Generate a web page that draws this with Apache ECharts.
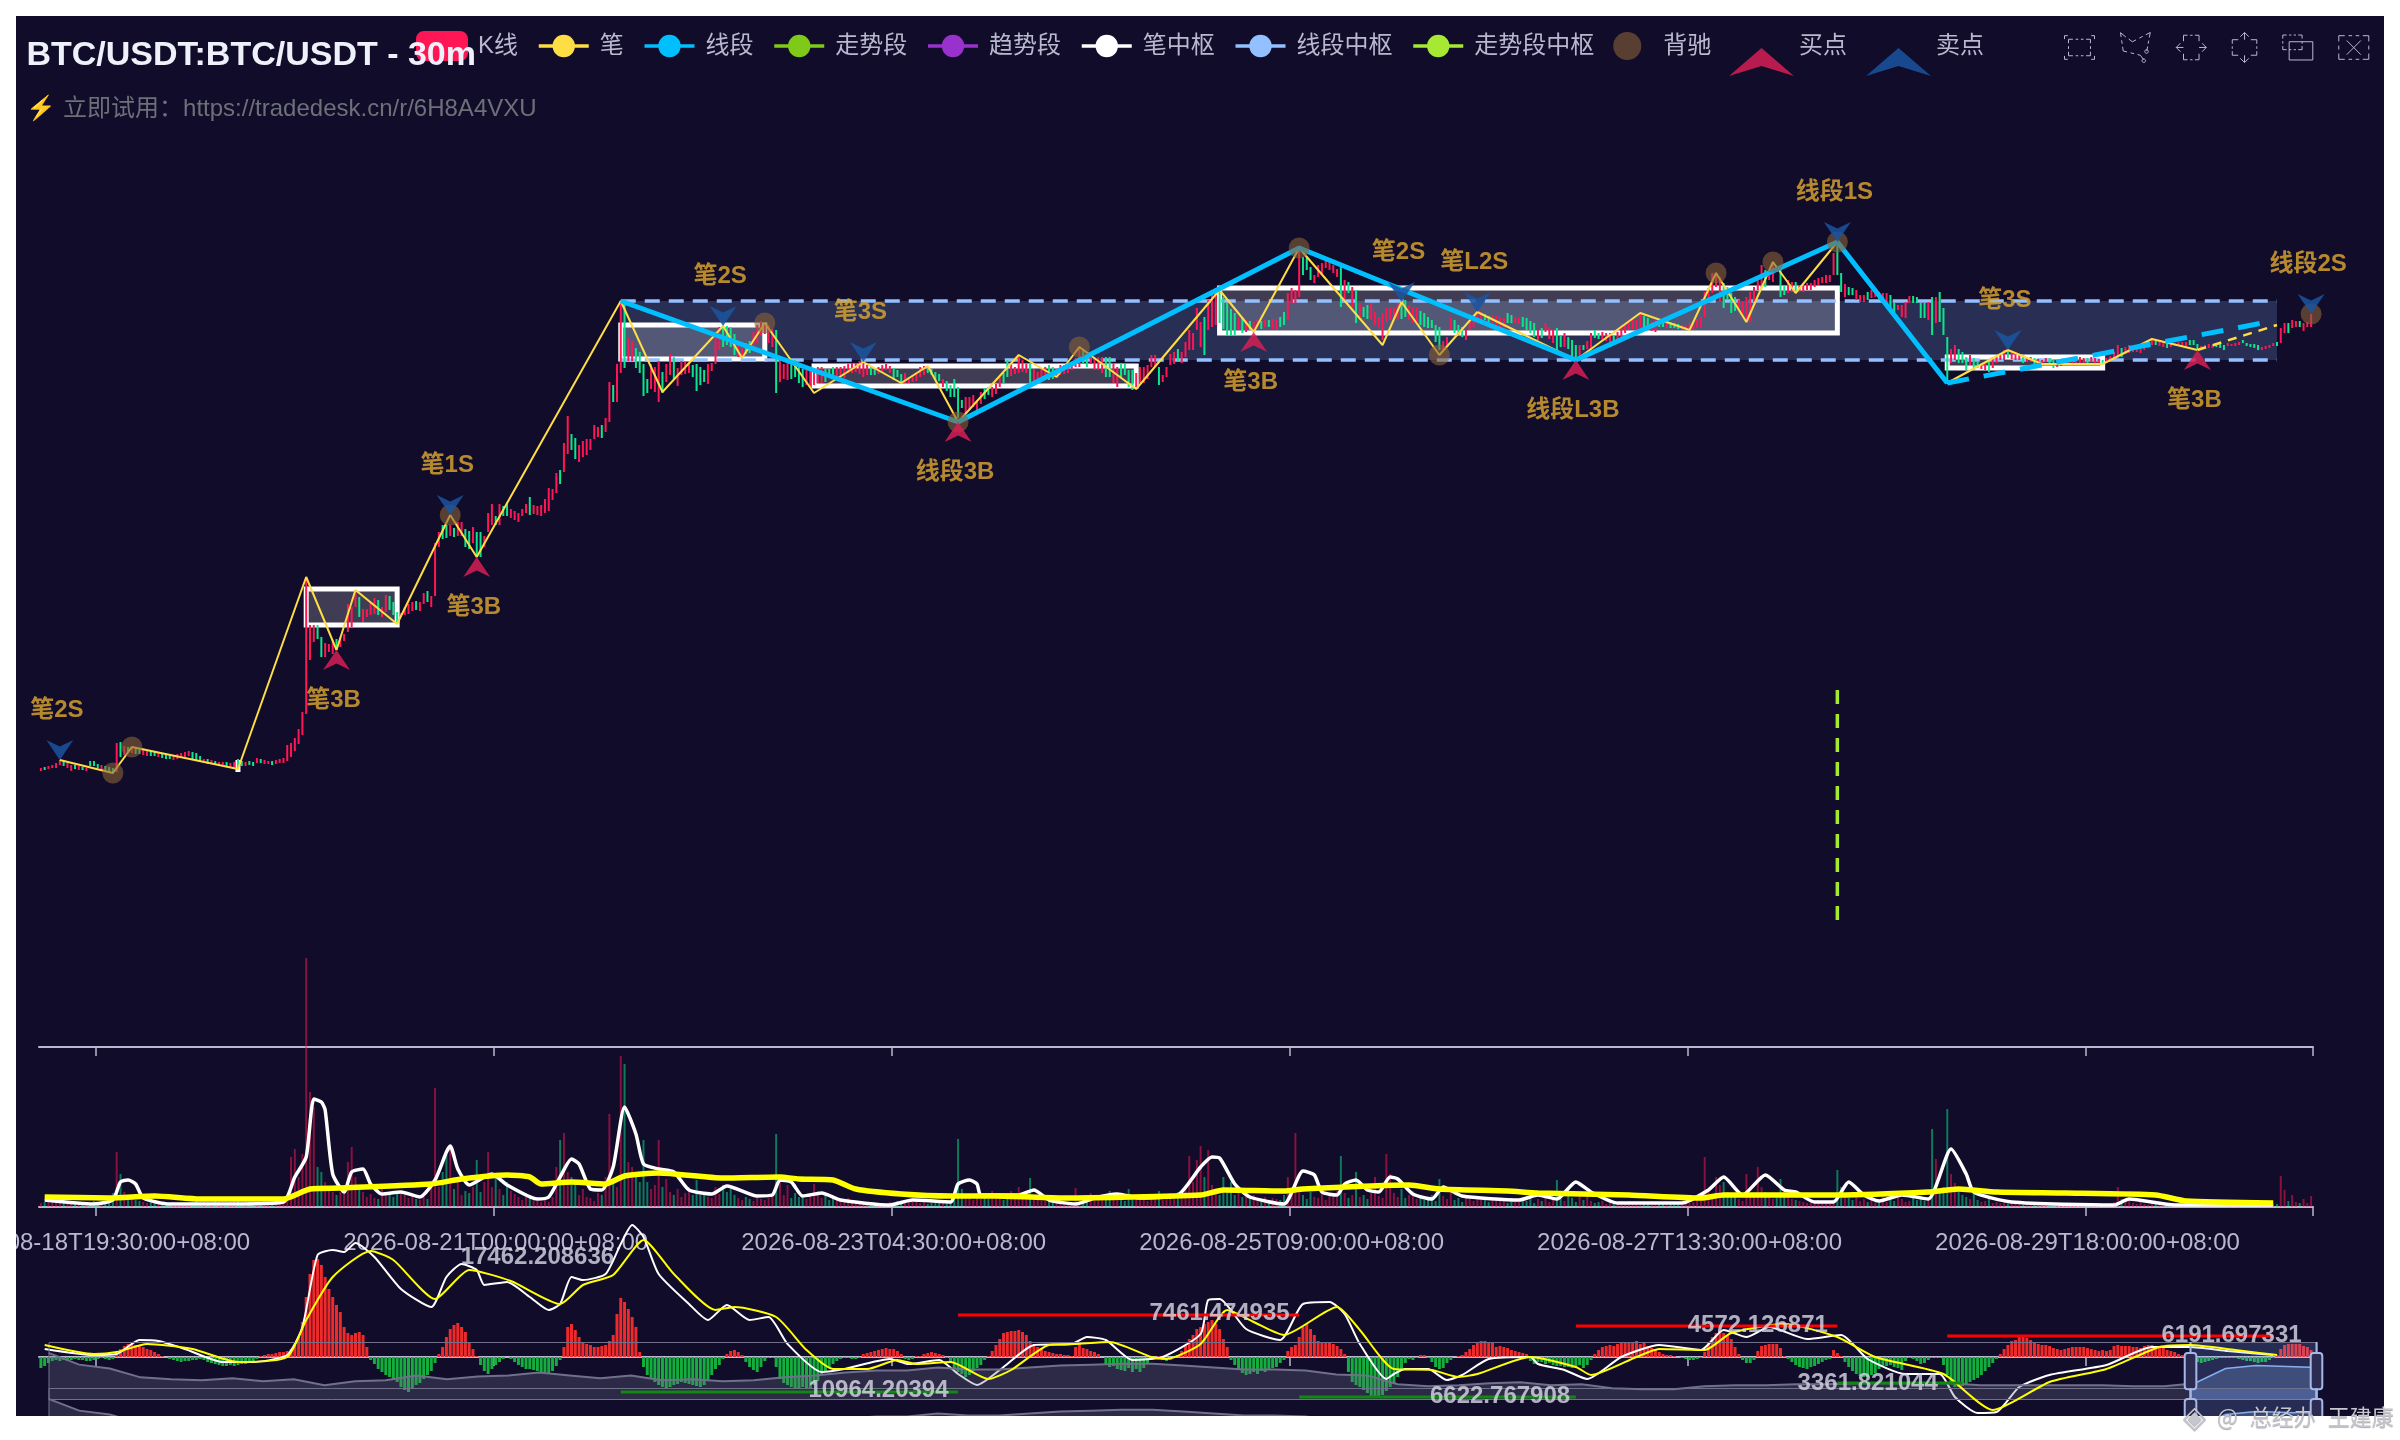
<!DOCTYPE html>
<html>
<head>
<meta charset="utf-8">
<style>
html,body{margin:0;padding:0;background:#fff;width:2400px;height:1440px;overflow:hidden}
#chart{position:absolute;left:16px;top:16px;width:2368px;height:1400px;overflow:hidden}
.mark{position:absolute;font-family:"Noto Sans CJK SC",sans-serif;color:#c6c6ce;text-shadow:0 1px 1px rgba(0,0,0,.35);white-space:nowrap}
</style>
<script src="https://cdn.jsdelivr.net/npm/echarts@6/dist/echarts.min.js"></script>
</head>
<body>
<div id="chart"></div>
<div class="mark" style="left:2183px;top:1392px;font-size:30px">◈</div>
<div class="mark" style="left:2217px;top:1399px;font-size:22px;word-spacing:7px">@ 总经办 王建康</div>
<script>
const START_TIME = Date.UTC(2026,7,18,12,0,0);
const BAR_COUNT = 600;
const highs = [
279,280,281,282,284,287,286,284,282,282,
281,280,279,286,286,283,282,281,280,279,
304,305,301,300,300,299,298,297,296,296,
295,295,294,293,292,292,293,294,295,296,
295,294,291,288,288,287,286,285,285,285,
284,285,288,286,285,286,285,289,288,287,
286,286,287,288,289,302,304,309,318,335,
470,422,422,422,410,404,403,407,408,410,
413,443,440,457,450,438,438,445,449,447,
440,452,451,445,435,434,440,443,445,446,
445,454,456,451,504,515,522,522,522,519,
525,525,518,516,520,515,515,511,534,543,
531,543,541,545,538,536,534,538,543,550,
542,541,542,548,559,558,574,577,604,631,
613,609,602,606,608,608,622,620,622,629,
665,662,683,746,745,709,706,699,695,683,
668,683,680,686,675,683,693,690,679,686,
685,684,682,683,680,677,683,684,709,720,
720,721,720,713,704,702,704,706,715,722,
726,724,722,718,717,687,683,687,687,687,
680,678,678,677,676,680,680,678,678,680,
680,680,681,683,684,684,686,685,682,680,
679,680,682,683,681,679,677,673,674,670,
672,673,680,681,681,678,675,673,668,666,
662,668,660,647,650,650,652,647,655,659,
660,660,663,670,674,687,683,680,692,687,
683,684,678,675,679,680,682,680,677,682,
682,683,684,689,699,697,690,690,690,690,
690,690,690,684,680,684,683,677,677,674,
680,680,682,692,692,680,672,680,693,695,
698,695,705,717,714,739,725,730,747,755,
757,759,750,744,738,734,730,730,727,726,
725,727,726,727,727,728,727,730,735,754,
759,757,799,790,790,780,772,782,784,787,
785,782,778,780,767,765,760,757,744,740,
742,744,735,730,734,739,739,740,744,745,
747,742,740,739,736,734,730,727,722,720,
706,710,729,727,722,720,717,727,730,735,
735,733,731,732,731,730,729,734,732,730,
729,730,729,726,724,717,719,724,720,717,
719,712,714,710,707,702,702,702,706,714,
717,714,715,714,714,712,715,722,724,727,
727,727,734,731,729,725,727,727,726,727,
725,724,723,722,722,724,724,728,730,755,
759,774,774,770,764,760,754,750,747,745,
750,755,760,769,782,777,775,785,780,778,
762,767,765,765,762,762,764,764,767,769,
770,772,772,794,805,774,763,760,759,757,
752,752,755,757,759,755,754,754,752,744,
742,742,745,751,751,750,744,744,745,750,
750,755,739,710,698,702,698,695,690,692,
689,685,684,683,687,690,690,692,697,697,
696,695,693,692,689,690,689,688,687,689,
689,687,684,685,687,687,687,688,690,689,
689,690,689,688,687,689,691,695,702,699,
700,702,700,701,702,704,705,709,707,706,
705,704,704,704,705,705,705,707,707,703,
701,702,703,702,704,703,702,704,703,704,
705,707,704,703,703,702,700,701,702,704,
705,719,724,724,727,726,726,724,725,733];
const lows = [
276,277,278,279,279,282,281,279,276,278,
277,277,276,281,281,279,277,275,274,274,
275,290,292,295,294,293,293,292,291,291,
291,290,289,288,288,287,288,289,290,291,
288,286,285,284,283,283,282,281,281,280,
280,280,278,281,281,282,281,284,284,283,
283,282,283,284,284,286,290,296,303,312,
333,387,405,408,390,390,395,393,397,400,
406,415,420,440,430,425,430,432,433,432,
430,435,437,432,423,431,432,433,436,437,
436,443,445,440,451,500,508,509,511,510,
511,511,500,498,504,490,490,500,515,522,
522,522,531,531,529,527,525,531,534,532,
533,532,531,534,536,547,554,563,575,593,
597,588,585,590,592,597,608,610,609,615,
625,645,645,674,679,686,686,679,674,651,
654,658,655,645,654,665,672,668,661,672,
673,674,670,656,662,665,663,676,683,697,
700,702,700,692,690,689,693,694,697,704,
711,713,704,700,654,665,668,667,668,670,
664,660,662,660,662,664,664,665,669,670,
668,668,669,674,674,675,673,670,672,672,
672,673,675,677,674,667,670,664,664,664,
665,666,670,672,674,672,667,666,660,656,
650,650,629,639,634,637,640,637,643,648,
652,650,653,660,664,670,671,673,674,675,
674,662,666,665,670,670,667,668,670,672,
673,674,677,680,680,684,680,683,677,677,
674,670,670,664,660,670,672,660,657,660,
664,664,668,680,680,662,665,670,682,683,
685,684,690,697,697,717,700,692,717,720,
722,724,718,712,712,712,717,714,715,717,
715,720,718,720,720,718,717,720,722,727,
744,744,750,772,777,767,764,770,772,779,
777,774,770,740,745,754,740,724,730,730,
728,727,722,720,707,725,727,730,727,728,
730,727,724,724,722,720,719,719,705,697,
695,700,717,714,712,710,707,717,720,724,
726,727,725,724,722,717,719,724,724,724,
723,720,717,714,710,707,709,715,708,704,
697,700,700,698,687,688,687,697,698,697,
709,708,707,706,705,705,708,710,714,717,
718,717,720,718,717,716,715,720,720,719,
719,719,718,717,717,717,717,719,720,730,
749,754,760,745,739,747,734,736,737,730,
728,725,745,757,760,760,767,765,775,750,
752,754,755,754,755,755,757,757,760,762,
764,764,765,772,772,755,750,752,752,747,
745,745,747,749,750,747,745,744,737,735,
737,730,729,744,744,744,729,729,727,712,
724,725,712,664,684,687,684,684,677,682,
677,679,678,677,675,679,684,687,687,689,
688,687,687,684,685,685,682,683,684,685,
684,679,680,681,682,683,684,684,684,683,
684,685,684,684,683,685,686,688,689,690,
693,694,695,695,694,697,699,702,702,701,
700,699,700,701,702,701,700,702,702,697,
698,698,699,699,700,699,697,701,701,701,
702,704,701,700,699,697,697,698,699,701,
701,704,714,714,719,720,720,716,720,720];
const ups = [
1,0,1,1,1,1,0,1,1,0,
1,0,1,0,0,0,1,0,0,0,
1,0,1,0,1,0,0,1,1,0,
0,1,0,0,0,1,1,1,1,1,
0,0,0,1,0,1,0,1,1,0,
1,1,0,0,1,0,0,1,0,1,
1,0,1,1,1,1,1,1,1,1,
1,1,1,0,0,1,1,1,0,1,
1,1,1,1,0,1,1,1,1,0,
1,1,0,0,0,1,1,1,1,0,
1,1,0,1,1,1,0,0,1,0,
1,1,0,0,1,0,0,1,1,1,
0,1,0,0,1,1,1,1,1,0,
1,1,1,1,1,1,1,0,1,1,
0,0,1,1,1,1,1,1,0,1,
1,0,1,1,0,1,1,0,0,0,
0,1,1,1,0,1,1,0,1,1,
1,1,0,0,0,0,1,1,1,1,
0,0,0,0,1,1,0,0,1,1,
1,1,1,1,0,1,1,1,0,0,
0,0,1,1,1,1,1,0,0,0,
1,1,1,1,1,1,1,1,1,0,
0,1,1,1,1,0,0,0,1,1,
1,1,1,1,0,0,0,0,1,0,
0,0,0,0,1,1,1,1,1,0,
0,1,1,1,0,0,1,1,1,1,
1,0,1,1,1,1,0,0,1,1,
1,1,1,1,1,0,0,1,1,1,
1,0,0,1,1,0,0,0,0,1,
1,1,1,1,1,0,1,1,1,1,
0,1,1,1,1,1,1,0,1,1,
1,0,0,0,0,0,1,0,1,0,
1,1,0,1,0,1,1,0,0,1,
1,1,1,0,0,0,1,1,1,1,
1,1,1,0,1,0,1,0,1,0,
0,1,1,1,1,1,1,1,1,0,
0,1,1,1,0,0,0,0,0,0,
1,1,1,0,0,0,1,1,1,1,
1,0,0,1,1,1,1,0,0,1,
1,0,0,0,0,1,0,1,1,1,
0,0,1,0,0,0,1,0,1,1,
0,0,1,1,1,0,1,1,1,1,
1,1,1,0,0,1,1,0,0,1,
0,0,0,1,1,1,1,1,1,1,
1,1,1,1,0,0,0,0,1,1,
1,1,1,1,1,0,1,1,0,0,
0,1,1,0,1,1,1,1,1,1,
1,1,1,1,0,0,1,0,0,1,
1,1,0,1,1,0,1,1,0,0,
1,1,1,1,0,0,0,0,1,0,
1,0,0,0,1,1,0,0,0,1,
0,0,1,1,0,1,1,1,1,0,
1,1,1,0,1,1,0,1,1,1,
0,0,1,1,1,1,1,1,1,1,
0,1,1,1,0,1,1,1,1,0,
1,1,1,1,1,1,1,1,0,1,
1,0,1,1,1,1,1,0,0,0,
1,1,1,1,0,0,0,1,1,1,
1,0,0,0,0,0,1,1,1,1,
0,1,1,0,1,1,0,1,1,1];
const volumes = [
4,5,6,6,5,4,8,5,4,6,
4,5,3,4,6,4,3,5,6,14,
55,33,15,8,10,7,6,5,4,5,
5,3,4,3,4,5,4,3,4,4,
5,6,4,5,3,4,6,5,3,4,
5,7,8,4,3,5,4,3,4,3,
4,3,5,4,6,10,50,58,30,53,
249,115,100,40,35,25,18,15,12,15,
14,45,60,30,22,15,10,13,9,8,
18,12,15,10,13,16,12,9,14,8,
7,10,8,25,119,20,35,53,62,18,
28,12,16,14,20,47,15,25,55,20,
30,18,12,25,16,13,10,7,10,12,
7,6,5,8,5,10,40,67,74,35,
30,25,12,18,10,9,6,14,12,30,
93,28,20,151,143,45,40,30,25,67,
25,18,22,67,20,28,15,12,18,10,
14,20,12,27,12,15,10,9,20,13,
22,15,18,12,9,7,10,8,6,9,
8,7,9,11,73,30,12,22,9,14,
10,13,8,11,23,16,9,12,7,10,
8,6,7,9,4,5,4,6,3,5,
4,3,4,3,5,4,6,3,4,6,
5,8,4,6,3,4,7,5,6,5,
6,9,68,18,12,9,7,14,8,10,
8,16,10,14,7,12,16,9,20,12,
8,29,12,10,6,7,9,5,8,4,
5,3,4,19,6,10,8,14,7,12,
9,8,16,7,12,10,6,18,9,8,
7,12,6,10,8,16,7,11,14,9,
15,9,20,51,25,47,61,30,57,22,
18,12,30,15,25,12,18,10,14,9,
12,8,7,10,6,9,8,7,12,30,
20,74,18,12,8,15,10,9,14,7,
12,10,16,51,14,9,12,35,10,12,
8,14,30,11,9,53,33,14,10,18,
9,12,16,8,11,7,10,12,6,28,
11,8,20,7,9,5,12,8,6,10,
7,9,5,8,10,6,7,4,9,8,
5,7,6,9,4,8,6,10,5,7,
27,8,6,12,9,5,14,7,10,6,
4,5,6,3,5,4,3,5,4,6,
4,3,5,4,3,6,4,5,3,4,
3,5,4,3,6,4,5,7,9,50,
18,12,30,22,25,15,12,10,8,6,
33,14,12,40,20,15,10,8,9,28,
12,10,8,7,6,5,4,6,5,7,
5,6,4,8,37,20,12,9,7,10,
6,8,5,7,4,6,14,5,7,6,
10,8,5,6,9,7,11,6,8,78,
48,14,20,98,33,24,18,12,10,8,
14,7,5,6,8,4,5,4,6,3,
4,3,5,2,4,3,2,4,3,5,
3,2,4,3,2,3,4,2,3,4,
2,3,2,4,3,2,3,5,20,8,
6,9,4,3,5,3,2,4,3,2,
3,2,4,2,3,2,1,2,3,2,
2,1,3,2,1,2,3,1,2,2,
1,2,1,2,1,3,2,1,2,2,
3,31,17,6,12,5,4,8,4,11];
const macdBars = [
-11,-9,-6,-4,-3,-4,-3,-4,-3,-2,
-3,-3,-4,-4,-3,-2,-1,-2,-3,-2,
3,8,11,13,13,12,11,10,8,7,
5,3,1,0,-2,-3,-4,-5,-4,-4,
-3,-3,-2,-3,-5,-6,-7,-8,-9,-9,
-8,-9,-8,-7,-7,-5,-4,-2,1,2,
3,3,4,5,5,6,8,12,20,35,
60,83,97,98,92,80,68,60,52,45,
30,24,22,24,25,22,10,-3,-7,-12,
-15,-18,-20,-23,-25,-30,-33,-35,-32,-28,
-26,-22,-18,-14,-6,3,10,20,28,32,
34,30,25,15,8,1,-8,-14,-17,-12,
-8,-5,-2,0,-2,-5,-8,-10,-12,-12,
-13,-14,-15,-15,-16,-14,-9,-3,10,30,
33,27,20,15,13,12,10,10,11,12,
16,22,43,59,55,48,40,30,5,-10,
-18,-22,-25,-28,-30,-31,-30,-28,-27,-25,
-26,-27,-28,-29,-30,-28,-24,-18,-12,-8,
-2,3,6,7,5,2,-5,-10,-13,-15,
-10,-4,-1,-1,-10,-22,-26,-28,-30,-31,
-31,-30,-32,-31,-28,-24,-18,-14,-10,-7,
-4,-2,-1,-1,-2,-2,-1,3,4,5,
6,7,8,9,8,8,6,3,-2,-3,
-2,1,1,3,4,5,4,3,2,-1,
-5,-11,-15,-17,-20,-18,-14,-11,-8,-3,
1,6,12,18,24,25,26,26,27,25,
22,16,12,10,9,6,5,4,3,3,
2,2,1,10,13,9,8,6,5,3,
0,-8,-10,-9,-12,-13,-14,-11,-15,-12,
-15,-11,-6,-3,0,1,-3,-4,-3,-1,
2,6,12,18,22,28,30,33,35,37,
33,28,18,10,-3,-8,-12,-16,-18,-17,
-15,-17,-14,-15,-13,-11,-10,-6,-3,6,
10,12,20,30,33,28,22,16,14,14,
14,13,11,8,3,-15,-25,-28,-30,-33,
-36,-40,-40,-40,-38,-34,-30,-26,-20,-12,
-6,-2,-3,-1,2,2,-1,-5,-10,-12,
-11,-6,-3,0,1,2,5,8,12,14,
16,16,14,14,10,11,10,9,7,6,
5,4,3,-4,-7,-5,-5,-7,-6,-8,
-9,-9,-10,-10,-11,-11,-8,-11,-8,-3,
3,7,10,11,12,11,13,14,15,14,
15,16,13,14,11,9,7,5,3,2,
2,1,0,-1,-2,-3,-3,-2,-1,5,
14,20,24,26,24,22,18,10,3,-3,
-6,-6,-3,6,11,12,13,13,13,9,
1,-2,-5,-8,-10,-11,-12,-10,-9,-7,
-5,-3,-2,7,4,1,-5,-10,-14,-17,
-19,-20,-20,-18,-16,-12,-10,-9,-8,-10,
-11,-13,-4,-1,-2,-4,-7,-6,-3,-1,
-1,-1,-8,-18,-25,-30,-30,-29,-27,-25,
-23,-21,-18,-14,-10,-6,-2,3,8,12,
16,17,20,20,19,17,15,13,12,12,
11,9,8,7,8,9,10,10,10,10,
9,8,7,6,7,6,7,11,12,11,
11,11,10,10,9,11,12,12,11,10,
9,7,6,5,3,2,-1,-2,-3,-5,
-6,-5,-4,-3,-2,-1,-1,-1,-1,-1,
-2,-3,-4,-4,-5,-6,-5,-5,-3,-1,
2,8,12,13,13,13,13,11,10,7];
const biLine = [[5,287],[19,274],[24,300],[52,278],[70,470],[78,397],[83,457],[94,423],[108,532],[115,490],[153,746],[164,655],[180,721],[185,689],[191,724],[204,654],[217,685],[227,664],[234,681],[242,625],[258,692],[268,670],[274,700],[289,658],[311,757],[320,715],[332,799],[354,702],[359,745],[369,692],[379,735],[405,687],[422,734],[435,717],[442,774],[450,725],[457,785],[463,754],[474,805],[503,664],[519,697],[528,683],[544,683],[557,708],[569,697]];
const biDashed = [[569,697],[590,722]];
const segLine = [[153,746],[242,625],[332,799],[405,687],[474,805],[503,664]];
const segDashed = [[503,664],[589,726]];
const biZones = [[52,52,287,275],[70,94,458,422],[153,191,722,688],[204,289,681,661],[311,474,759,714],[503,544,690,679]];
const segZones = [[153,590,746,687]];
const trendLine = [[474,357],[474,125]];
const divergences = [[19,274],[24,300],[108,532],[191,724],[242,625],[274,700],[332,799],[369,692],[442,774],[457,785],[474,805],[599,733]];
const buyPoints = [[78,397,'笔3B'],[115,490,'笔3B'],[242,625,'线段3B'],[320,715,'笔3B'],[405,687,'线段L3B'],[569,697,'笔3B']];
const sellPoints = [[5,287,'笔2S'],[108,532,'笔1S'],[180,721,'笔2S'],[217,685,'笔3S'],[359,745,'笔2S'],[379,735,'笔L2S'],[474,805,'线段1S'],[519,697,'笔3S'],[599,733,'线段2S']];
const volWhite = [[1,7],[14,3],[19,7],[21,25],[23,27],[25,23],[27,9],[34,3],[50,3],[64,5],[67,30],[70,50],[72,108],[74,105],[75,97],[77,33],[80,15],[82,35],[85,38],[87,23],[90,13],[95,15],[100,10],[104,27],[107,55],[108,61],[110,38],[113,22],[117,30],[119,33],[123,22],[131,8],[134,10],[137,30],[140,48],[142,43],[145,18],[148,17],[151,40],[154,100],[157,73],[159,43],[163,38],[167,35],[171,17],[177,13],[181,21],[189,11],[193,12],[195,27],[198,25],[201,11],[206,14],[211,7],[224,2],[230,7],[240,5],[242,23],[245,27],[247,23],[248,12],[258,12],[262,17],[266,7],[273,3],[278,9],[284,13],[290,9],[300,12],[306,40],[309,50],[311,49],[315,23],[319,10],[328,3],[333,36],[336,32],[338,15],[342,12],[344,23],[347,27],[350,17],[353,15],[356,30],[358,28],[362,13],[367,8],[370,20],[375,11],[390,7],[395,12],[400,8],[405,25],[409,15],[416,4],[433,4],[440,17],[444,30],[449,12],[455,32],[460,17],[463,15],[468,5],[473,5],[477,25],[481,12],[485,6],[491,12],[498,8],[504,58],[508,33],[510,15],[520,5],[547,2],[551,8],[563,2],[589,2]];
const volYellow = [[1,10],[18,9],[30,11],[42,8],[64,8],[71,18],[79,19],[103,23],[111,28],[123,32],[129,30],[132,23],[140,25],[149,23],[154,31],[163,34],[180,29],[195,30],[200,28],[209,27],[215,18],[227,13],[240,11],[252,11],[270,9],[306,12],[312,17],[328,16],[333,18],[361,22],[369,18],[387,16],[395,14],[419,12],[438,9],[444,12],[474,12],[498,15],[506,18],[516,15],[534,14],[558,12],[566,6],[589,4]];
const difLine = [[1,8],[14,2],[20,3],[26,17],[31,16],[38,8],[48,-5],[56,-5],[65,2],[69,30],[73,102],[77,107],[80,105],[83,114],[88,100],[95,68],[103,50],[107,80],[111,93],[115,87],[117,72],[123,75],[129,60],[134,47],[137,53],[140,80],[143,77],[149,83],[153,113],[156,132],[159,120],[163,83],[171,53],[176,37],[181,52],[187,37],[192,40],[197,13],[206,-15],[212,-12],[224,-2],[229,-7],[237,-3],[242,-17],[247,-28],[254,-10],[262,12],[272,13],[276,20],[281,17],[288,-3],[296,0],[306,23],[308,57],[311,58],[318,28],[327,17],[333,53],[340,55],[344,43],[348,13],[355,-22],[357,-17],[360,-12],[366,-12],[371,-23],[375,-18],[382,-2],[393,0],[395,-7],[402,-13],[408,-22],[417,0],[427,12],[438,7],[444,27],[450,20],[456,30],[466,18],[475,22],[482,-2],[492,-17],[501,-17],[505,-40],[511,-56],[516,-55],[522,-30],[530,-18],[545,-8],[557,10],[567,10],[577,6],[589,2]];
const deaLine = [[1,12],[14,3],[20,5],[28,13],[40,8],[52,-5],[65,0],[70,37],[77,80],[87,106],[93,97],[104,58],[113,87],[124,76],[137,53],[143,72],[151,82],[159,117],[167,83],[178,47],[183,50],[194,40],[202,7],[209,-12],[218,-12],[226,-3],[231,-7],[240,-5],[250,-22],[256,-13],[266,12],[273,13],[282,15],[293,0],[297,-2],[306,13],[313,47],[320,35],[328,22],[342,50],[348,27],[357,-12],[367,-13],[374,-20],[379,-17],[393,0],[405,-10],[409,-18],[421,0],[427,8],[439,7],[446,24],[460,33],[474,20],[484,0],[502,-17],[515,-53],[530,-25],[545,-12],[559,10],[567,12],[579,7],[590,2]];
const macdLevels = [[153,242,-35,'#118811'],[242,332,42,'#ff0000'],[332,405,-40,'#118811'],[405,474,31,'#ff0000'],[474,507,-26,'#118811'],[503,589,21,'#ff0000']];
const macdNotes = [[131,100,'17462.208636'],[221,-33,'10964.20394'],[311,44,'7461.474935'],[385,-39,'6622.767908'],[453,32,'4572.126871'],[482,-26,'3361.821044'],[578,22,'6191.697331']];
const overviewValues = [50,38,34,25,23,22,24,21,23,17,21,22,27,23,26,27,30,27,24,27,22,23,21,22,25,27,30,32,32,35,33,33,35,37,38,39,39,37,35,33,33,32,28,27,18,16,17,19,20,17,18,14,13,13,16,17,17,18,18,19,19,19,19,17,17,17,17,17,16,16,19,34,37,36,35];
const legendMain = ['K线','笔','线段','走势段','趋势段','笔中枢','线段中枢','走势段中枢','背驰'];
const titleText = 'BTC/USDT:BTC/USDT - 30m';
const subText = '立即试用：https://tradedesk.cn/r/6H8A4VXU';

const pad = n => String(n).padStart(2,'0');
const categories = Array.from({length:BAR_COUNT},(_,i)=>{
  const d = new Date(START_TIME + i*1800000);
  return d.getUTCFullYear()+'-'+pad(d.getUTCMonth()+1)+'-'+pad(d.getUTCDate())+'T'+pad(d.getUTCHours())+':'+pad(d.getUTCMinutes())+':00+08:00';
});
const tickFn = i => i>=15 && (i-15)%105===0;
const UP='#ff1654', DOWN='#0be68c';
const candles = highs.map((h,i)=> ups[i]?[lows[i],h,lows[i],h]:[h,lows[i],lows[i],h]);
const volData = volumes.map((v,i)=>({value:v,itemStyle:{color:ups[i]?UP:DOWN,opacity:.5}}));
const macdData = macdBars.map(v=>({value:v,itemStyle:{color:v>=0?'#ee2a2a':'#14ad3e'}}));
const zoneData = list => list.map(z=>[{xAxis:z[0],yAxis:z[2]},{xAxis:z[1],yAxis:z[3]}]);
const pointPath = 'path://M13.5 0L27 20L13.5 13.5L0 20Z';
const pointSeries = (name,list,color,sell)=>({
  name,type:'scatter',xAxisIndex:0,yAxisIndex:0,z:8,symbol:pointPath,symbolSize:[27,20],
  symbolRotate:sell?180:0,symbolOffset:[0,sell?-10:10],
  itemStyle:{color,opacity:.85},
  label:{show:true,position:sell?'top':'bottom',distance:18,offset:[-3,0],
    formatter:p=>p.value[2],color:'#d4a030',fontSize:24,fontWeight:'bold',
    fontFamily:'"Liberation Sans","Noto Sans CJK SC",sans-serif'},
  data:list
});
const axisBase = {type:'category',data:categories,boundaryGap:true,
  axisLine:{show:true,onZero:true,lineStyle:{color:'#B9B8CE',width:2}},
  axisTick:{show:true,length:9,interval:tickFn,lineStyle:{color:'#B9B8CE',width:1.5}},
  axisLabel:{show:false},splitLine:{show:false}};
const sliderBase = {type:'slider',xAxisIndex:3,start:94.36,end:100,left:30,right:69,height:58,filterMode:'none',
  showDetail:false,showDataShadow:true,brushSelect:false,moveHandleSize:14,handleSize:'100%',
  borderColor:'#71708A',backgroundColor:'rgba(0,0,0,0)',fillerColor:'rgba(135,175,255,.2)',
  dataBackground:{lineStyle:{color:'#71708A',width:2,opacity:1},areaStyle:{color:'#71708A',opacity:.3}},
  selectedDataBackground:{lineStyle:{color:'#87afef',width:1.5},areaStyle:{color:'#87afef',opacity:.25}},
  handleStyle:{color:'#2c2c52',borderColor:'#a6b8e8',borderWidth:2},
  moveHandleStyle:{color:'#B9B8CE',opacity:.25},
  emphasis:{moveHandleStyle:{color:'#B9B8CE'}}};
const arrowIcon = 'path://M0 0L0 0M32.5 32L65 60L32.5 50L0 60Z';
const gridBase = {left:23,right:71,outerBoundsMode:'none',containLabel:false};

const option = {
  backgroundColor:'#100C2A',
  animation:false,
  textStyle:{fontFamily:'"Liberation Sans","Noto Sans CJK SC",sans-serif'},
  title:[
    {text:titleText,left:5.4,top:18,textStyle:{color:'#EEF1FA',fontSize:34,fontWeight:'bold'}},
    {text:'{b|⚡} '+subText,left:5.4,top:76,textStyle:{color:'#6E7079',fontSize:24,fontWeight:'normal',rich:{b:{color:'#8a6c2c',fontSize:24}}}}
  ],
  legend:[
    {data:legendMain,left:400,top:15,padding:0,itemWidth:50,itemHeight:28,itemGap:19,
     textStyle:{color:'#B9B8CE',fontSize:24,padding:[0,0,0,6]},lineStyle:{width:3.5,type:'solid'},z:4},
    {data:[{name:'买点',icon:arrowIcon},{name:'卖点',icon:arrowIcon}],left:1713,top:0,padding:0,itemWidth:65,itemHeight:60,itemGap:19,
     textStyle:{color:'#B9B8CE',fontSize:24}}
  ],
  toolbox:{left:2046,top:14,padding:0,itemSize:30,itemGap:21,iconStyle:{borderColor:'#B9B8CE'},
    feature:{brush:{type:['rect','polygon','lineX','lineY','keep','clear']}}},
  brush:{xAxisIndex:0,toolbox:['rect','polygon','lineX','lineY','keep','clear'],inBrush:{opacity:1}},
  grid:[
    Object.assign({},gridBase,{top:84,height:947}),
    Object.assign({},gridBase,{top:942,height:249}),
    Object.assign({},gridBase,{top:1209,height:188}),
    {left:30,right:69,top:1500,height:20,outerBoundsMode:'none'}
  ],
  xAxis:[
    Object.assign({},axisBase,{gridIndex:0}),
    Object.assign({},axisBase,{gridIndex:1,axisLabel:{show:true,interval:tickFn,color:'#B9B8CE',fontSize:24,margin:24,hideOverlap:false}}),
    Object.assign({},axisBase,{gridIndex:2}),
    {type:'category',gridIndex:3,show:false,data:overviewValues.map((_,i)=>i)}
  ],
  yAxis:[
    {gridIndex:0,type:'value',min:0,max:947,show:false,splitLine:{show:false}},
    {gridIndex:1,type:'value',min:0,max:249,show:false,splitLine:{show:false}},
    {gridIndex:2,type:'value',min:-56,max:132,show:false,splitLine:{show:false}},
    {gridIndex:3,type:'value',show:false,splitLine:{show:false}}
  ],
  dataZoom:[Object.assign({},sliderBase,{top:1326}),Object.assign({},sliderBase,{top:1372})],
  series:[
    {name:'概览',type:'line',xAxisIndex:3,yAxisIndex:3,data:overviewValues,symbol:'none',lineStyle:{opacity:0},silent:true},
    {name:'K线',type:'candlestick',xAxisIndex:0,yAxisIndex:0,z:3,barWidth:0.6,data:candles,
     itemStyle:{color:UP,color0:DOWN,borderColor:UP,borderColor0:DOWN,borderWidth:2}},
    {name:'笔',type:'line',xAxisIndex:0,yAxisIndex:0,z:5,symbol:'circle',showSymbol:false,data:biLine,
     itemStyle:{color:'#FFDD44'},lineStyle:{color:'#FFDD44',width:2}},
    {name:'笔',type:'line',xAxisIndex:0,yAxisIndex:0,z:5,symbol:'none',data:biDashed,
     itemStyle:{color:'#FFDD44'},lineStyle:{color:'#FFDD44',width:2.5,type:[9,7]}},
    {name:'线段',type:'line',xAxisIndex:0,yAxisIndex:0,z:6,symbol:'circle',showSymbol:false,data:segLine,
     itemStyle:{color:'#00BFFF'},lineStyle:{color:'#00BFFF',width:5}},
    {name:'线段',type:'line',xAxisIndex:0,yAxisIndex:0,z:6,symbol:'none',data:segDashed,
     itemStyle:{color:'#00BFFF'},lineStyle:{color:'#00BFFF',width:5,type:[22,15]}},
    {name:'走势段',type:'line',xAxisIndex:0,yAxisIndex:0,symbol:'circle',showSymbol:false,data:[],itemStyle:{color:'#7FC918'},lineStyle:{color:'#7FC918'}},
    {name:'趋势段',type:'line',xAxisIndex:0,yAxisIndex:0,symbol:'circle',showSymbol:false,data:[],itemStyle:{color:'#9932CC'},lineStyle:{color:'#9932CC'}},
    {name:'笔中枢',type:'line',xAxisIndex:0,yAxisIndex:0,z:2,symbol:'circle',showSymbol:false,data:[],itemStyle:{color:'#FFFFFF'},lineStyle:{color:'#FFFFFF'},
     markArea:{silent:true,z:2,itemStyle:{color:'rgba(255,255,255,.2)',borderColor:'#fff',borderWidth:5},data:zoneData(biZones)}},
    {name:'线段中枢',type:'line',xAxisIndex:0,yAxisIndex:0,z:1,symbol:'circle',showSymbol:false,data:[],itemStyle:{color:'#93C0FF'},lineStyle:{color:'#93C0FF'},
     markArea:{silent:true,z:1,itemStyle:{color:'rgba(147,192,255,.2)'},data:zoneData(segZones)},
     markLine:{silent:true,z:2,symbol:'none',label:{show:false},lineStyle:{color:'#93C0FF',width:3.5,type:[15,9]},
       data:segZones.flatMap(z=>[[{xAxis:z[0],yAxis:z[2]},{xAxis:z[1],yAxis:z[2]}],[{xAxis:z[0],yAxis:z[3]},{xAxis:z[1],yAxis:z[3]}]])}},
    {name:'走势段中枢',type:'line',xAxisIndex:0,yAxisIndex:0,z:2,symbol:'circle',showSymbol:false,data:trendLine,itemStyle:{color:'#A6E832'},lineStyle:{color:'#A6E832',width:3.5,type:[14,10]}},
    {name:'背驰',type:'scatter',xAxisIndex:0,yAxisIndex:0,z:7,symbol:'circle',symbolSize:21,data:divergences,
     itemStyle:{color:'#8a6238',opacity:.6}},
    pointSeries('买点',buyPoints,'#D61F54',false),
    pointSeries('卖点',sellPoints,'#1A55A0',true),
    {name:'成交量',type:'bar',xAxisIndex:1,yAxisIndex:1,barWidth:2,data:volData,z:2},
    {name:'VOL_A',type:'line',xAxisIndex:1,yAxisIndex:1,z:3,smooth:.2,symbol:'none',data:volWhite,lineStyle:{color:'#fff',width:3.5}},
    {name:'VOL_B',type:'line',xAxisIndex:1,yAxisIndex:1,z:4,smooth:.2,symbol:'none',data:volYellow,lineStyle:{color:'#FFFF00',width:5.5}},
    {name:'MACD',type:'bar',xAxisIndex:2,yAxisIndex:2,barWidth:3,data:macdData,z:2},
    {name:'DIF',type:'line',xAxisIndex:2,yAxisIndex:2,z:3,smooth:.2,symbol:'none',data:difLine,lineStyle:{color:'#fff',width:2}},
    {name:'DEA',type:'line',xAxisIndex:2,yAxisIndex:2,z:4,smooth:.2,symbol:'none',data:deaLine,lineStyle:{color:'#FFFF00',width:2}}
  ].concat(macdLevels.map((l,k)=>({
    name:'背驰段'+k,type:'line',xAxisIndex:2,yAxisIndex:2,z:5,symbol:'none',
    data:[[l[0],l[2]],[l[1],l[2]]],lineStyle:{color:l[3],width:3}
  }))).concat([{
    name:'面积',type:'scatter',xAxisIndex:2,yAxisIndex:2,z:9,symbolSize:1,itemStyle:{color:'rgba(0,0,0,0)'},data:macdNotes,
    label:{show:true,position:'inside',formatter:p=>p.value[2],color:'#DADAE6',fontSize:24,fontWeight:'bold'}
  }])
};
const chart = echarts.init(document.getElementById('chart'),null,{renderer:'canvas',width:2368,height:1400});
chart.setOption(option);
</script>
</body>
</html>
